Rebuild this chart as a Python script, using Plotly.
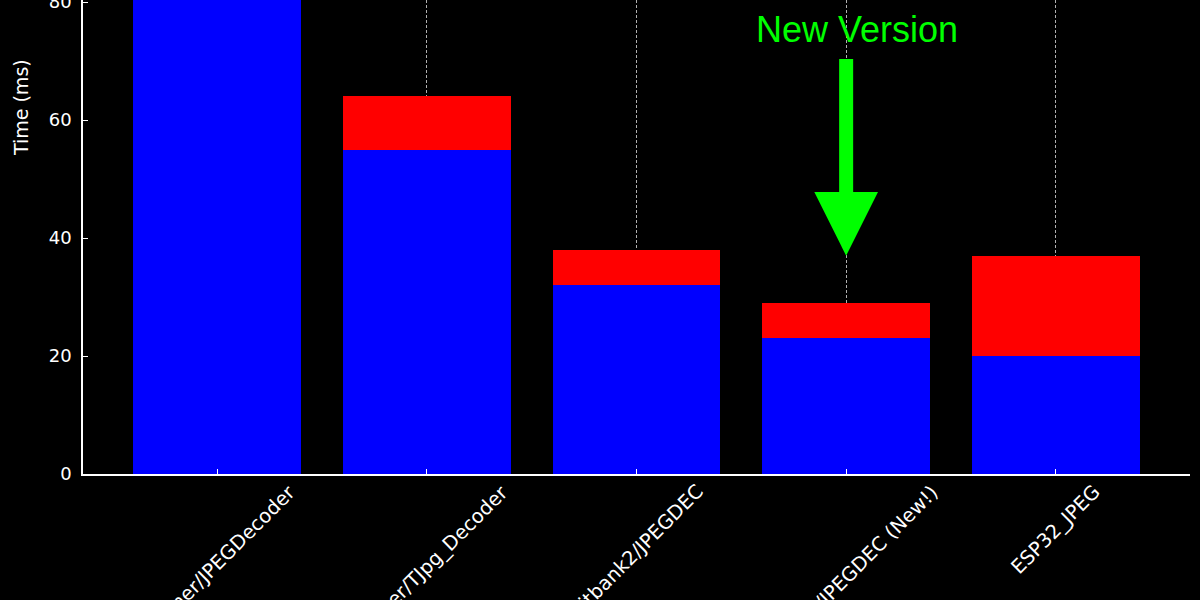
import plotly.graph_objects as go

# decoder names (bottom labels) and timings in ms
decoders = ["Bodmer/JPEGDecoder", "Bodmer/TJpg_Decoder", "bitbank2/JPEGDEC",
            "bitbank2/JPEGDEC (New!)", "ESP32_JPEG"]
decode_ms = [103, 55, 32, 23, 20]
extra_ms = [14, 9, 6, 6, 17]
y_ticks = [0, 20, 40, 60, 80]

# arrow pointing at the new version (x index, tail y, tip y)
new_idx = 3
arrow_from = 70.6
arrow_to = 37

fig = go.Figure()
fig.add_trace(go.Bar(x=decoders, y=decode_ms, marker_color="#0000ff",
                     marker_line_width=0, width=0.8))
fig.add_trace(go.Bar(x=decoders, y=extra_ms, marker_color="#ff0000",
                     marker_line_width=0, width=0.8))

fig.update_layout(
    width=1200, height=600,
    barmode="stack",
    showlegend=False,
    paper_bgcolor="black", plot_bgcolor="black",
    margin=dict(l=83, r=10, t=0, b=126),
    font=dict(family="DejaVu Sans", size=18, color="white"),
)

fig.update_xaxes(
    type="category", range=[-0.64, 4.64],
    showticklabels=False, automargin=False,
    showline=True, linecolor="white", linewidth=1.5,
    ticks="inside", ticklen=5, tickcolor="white", tickwidth=1.2,
    showgrid=True, gridcolor="#b0b0b0", gridwidth=0.8, griddash="3px,2px",
    layer="above traces", zeroline=False,
)
fig.update_yaxes(
    range=[0, 80.34], tickvals=y_ticks, automargin=False,
    showline=True, linecolor="white", linewidth=1.5,
    ticks="inside", ticklen=5, tickcolor="white", tickwidth=1.2,
    ticklabelstandoff=6, ticklabeloverflow="allow",
    showgrid=False, zeroline=False,
)

# rotated category labels, centred under each bar like matplotlib does
for name in decoders:
    fig.add_annotation(x=name, y=0, xref="x", yref="paper", text=name,
                       textangle=-45, showarrow=False, xanchor="center",
                       yanchor="top", yshift=-4,
                       font=dict(family="DejaVu Sans", size=19.5, color="white"))

# y title sits high because the original axes went further up
fig.add_annotation(x=-0.056, y=0.772, xref="paper", yref="paper",
                   text="Time (ms)", textangle=-90, showarrow=False,
                   xanchor="center", yanchor="middle",
                   font=dict(family="DejaVu Sans", size=19, color="white"))

fig.add_annotation(x=new_idx, y=arrow_to, ax=new_idx, ay=arrow_from,
                   xref="x", yref="y", axref="x", ayref="y", text="",
                   showarrow=True, arrowhead=2, arrowwidth=14, arrowsize=0.91,
                   arrowcolor="#00ff00")
fig.add_annotation(x=new_idx + 0.05, y=75.3, xref="x", yref="y",
                   text="New Version", showarrow=False,
                   font=dict(family="Liberation Sans", size=36, color="#00ff00"))

fig.write_html("out.html", config={"displayModeBar": False},
               post_script="document.body.style.margin='0';"
                           "document.body.style.background='black';")
